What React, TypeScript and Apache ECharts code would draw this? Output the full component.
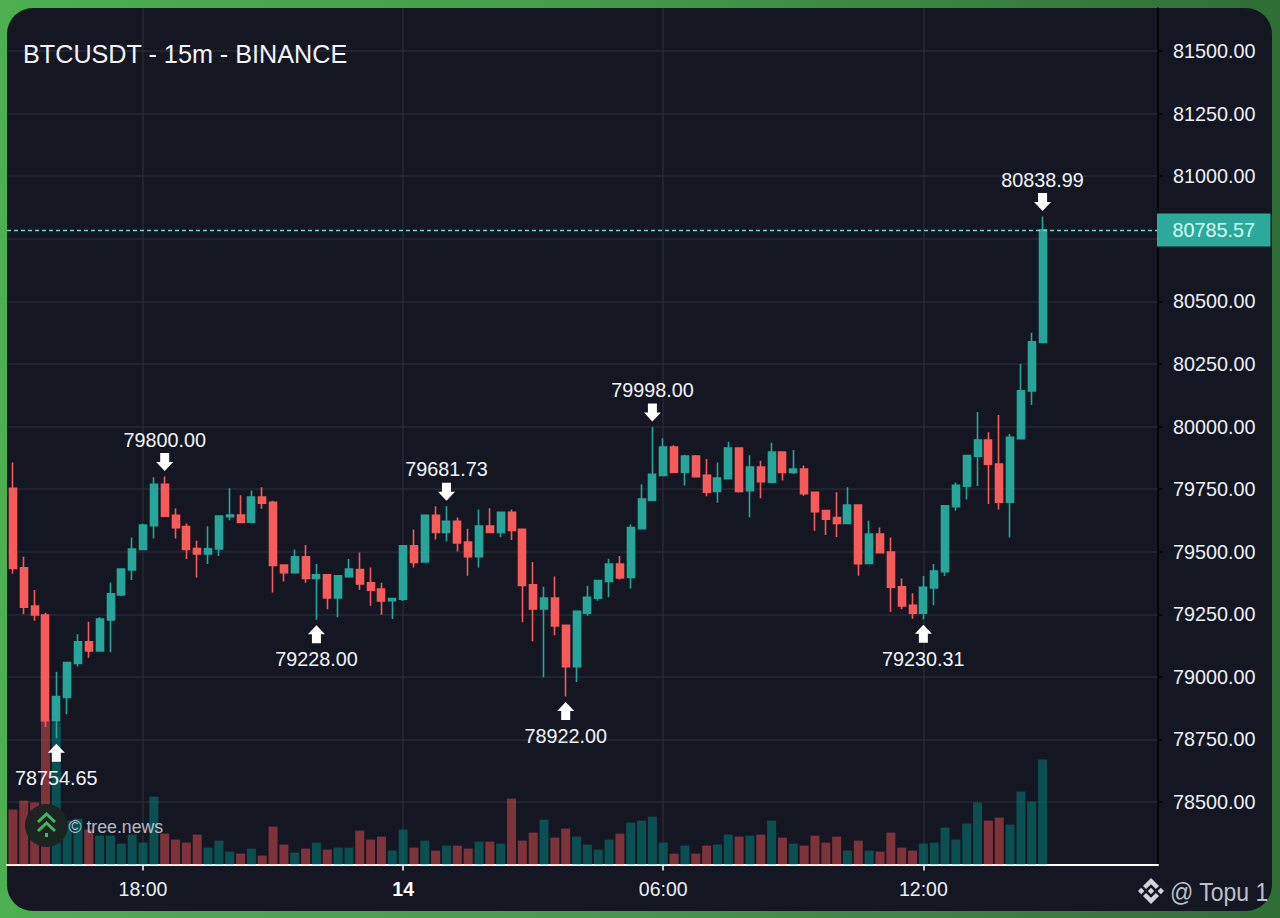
import React, { useEffect, useRef } from "react";
import * as echarts from "echarts";

const title = "BTCUSDT - 15m - BINANCE";
const FONT = '"Liberation Sans", Arial, sans-serif';
const UP = "#26A69A";
const DOWN = "#F85A5A";
const UP_VOL = "rgba(0,136,128,0.5)";
const DOWN_VOL = "rgba(232,78,82,0.5)";
const GRID = "#262a36";

const opens = [79753,79436,79283,79247,78825,78918,79054,79140,79104,79227,79327,79427,79509,79604,79769,79645,79600,79513,79491,79511,79640,79646,79618,79718,79697,79447,79416,79480,79393,79408,79315,79400,79429,79376,79351,79304,79310,79524,79459,79645,79577,79621,79539,79480,79602,79577,79657,79589,79368,79271,79315,79206,79041,79254,79314,79381,79451,79397,79592,79706,79805,79918,79818,79882,79805,79741,79792,79914,79744,79838,79778,79898,79817,79830,79737,79664,79636,79613,79686,79453,79571,79499,79360,79286,79254,79355,79420,79680,79762,79882,79946,79850,79698,79951,80142,80336];
const closes = [79433,79278,79247,78825,78921,79057,79140,79104,79231,79332,79431,79511,79606,79769,79642,79596,79509,79491,79512,79642,79646,79617,79718,79694,79445,79416,79480,79393,79408,79315,79404,79431,79371,79346,79303,79313,79524,79457,79645,79577,79621,79535,79480,79602,79577,79657,79585,79365,79271,79315,79203,79041,79262,79318,79385,79451,79395,79596,79710,79809,79918,79818,79882,79800,79738,79794,79914,79741,79838,79780,79898,79817,79830,79732,79660,79630,79613,79686,79452,79571,79496,79358,79283,79254,79358,79423,79683,79765,79884,79946,79850,79698,79957,80143,80339,80785.57];
const lows = [79413,79250,79224,78800,78754.65,78851,79041,79076,79104,79098,79323,79387,79509,79553,79642,79553,79471,79397,79451,79483,79626,79617,79618,79672,79337,79381,79416,79376,79228,79270,79238,79400,79347,79284,79248,79231,79303,79437,79459,79549,79541,79501,79404,79437,79577,79559,79547,79218,79142,78998,79166,78922,78979,79244,79304,79318,79389,79353,79592,79706,79805,79818,79764,79800,79722,79696,79792,79736,79638,79714,79773,79784,79810,79724,79584,79567,79559,79613,79404,79453,79496,79260,79270,79232,79230.31,79286,79403,79664,79709,79762,79691,79669,79557,79951,80086,80336];
const highs = [79856,79480,79347,79256,79020,79057,79170,79220,79238,79377,79433,79557,79612,79797,79800,79673,79613,79544,79602,79645,79753,79726,79744,79757,79704,79447,79509,79527,79451,79408,79404,79471,79497,79437,79376,79313,79524,79589,79645,79682,79681.73,79637,79592,79669,79674,79657,79669,79593,79459,79360,79401,79206,79262,79364,79385,79472,79483,79609,79769,79998,79953,79925,79887,79886,79870,79856,79939,79914,79885,79863,79935,79898,79906,79844,79737,79666,79737,79757,79686,79624,79597,79557,79393,79334,79403,79451,79683,79776,79884,80058,79977,80046,79970,80250,80375,80838.99];
const volumes = [55,64,62,145,142,44,46,35,29,29,21,30,22,68,31,25,22,30,17,24,13,11,16,9,38,20,12,16,22,15,17,17,34,25,28,14,35,17,24,14,19,19,16,23,23,21,66,24,32,45,27,36,28,20,15,25,31,42,44,48,22,11,19,11,19,20,30,28,29,30,44,27,21,19,29,22,28,14,24,14,13,32,17,14,21,22,37,25,41,62,44,47,40,73,63,105];

const xTickIndexes = [12, 36, 60, 84];
const xTickLabels = ["18:00", "14", "06:00", "12:00"];
const priceTicks = [78500,78750,79000,79250,79500,79750,80000,80250,80500,80750,81000,81250,81500];
const lastPrice = 80785.57;
const swingHighs: [number, number][] = [[14, 79800], [40, 79681.73], [59, 79998], [95, 80838.99]];
const swingLows: [number, number][] = [[4, 78754.65], [28, 79228], [51, 78922], [84, 79230.31]];

const binanceMark = "M0,-13L8,-5L4.9,-1.9L0,-6.8L-4.9,-1.9L-8,-5Z M0,13L8,5L4.9,1.9L0,6.8L-4.9,1.9L-8,5Z M0,-3.2L3.2,0L0,3.2L-3.2,0Z M-13,0L-9.8,-3.2L-6.6,0L-9.8,3.2Z M13,0L9.8,-3.2L6.6,0L9.8,3.2Z";
const DOWN_ARROW = "path://M4,0L13,0L13,9L17,9L8.5,18L0,9L4,9Z";
const UP_ARROW = "path://M8.5,0L17,9L13,9L13,18L4,18L4,9L0,9Z";

export default function App() {
  const ref = useRef<HTMLDivElement>(null);
  useEffect(() => {
    document.body.style.margin = "0";
    echarts.graphic.registerShape("binanceLogo", echarts.graphic.extendPath(binanceMark, {}) as any);
    const chart = echarts.init(ref.current!, undefined, { renderer: "svg" });
    const xMin = -0.55;
    const xMax = 105.65;
    const markLabel = {
      show: true,
      color: "#f2f4f8",
      fontSize: 19.8,
      fontFamily: FONT,
      formatter: (p: any) => p.value[1].toFixed(2),
    };
    chart.setOption({
      animation: false,
      backgroundColor: "transparent",
      title: {
        text: title,
        left: 18,
        top: 36,
        textStyle: { color: "#f2f4f8", fontSize: 25.2, fontWeight: "normal", fontFamily: FONT },
      },
      grid: [
        { left: 7, right: 122, top: 8, bottom: 53.4 },
        { left: 7, right: 122, height: 164, bottom: 53.4 },
      ],
      xAxis: [
        {
          type: "value",
          gridIndex: 0,
          min: xMin,
          max: xMax,
          position: "bottom",
          axisLine: { show: true, lineStyle: { color: "#ffffff", width: 2 }, onZero: false },
          axisTick: { show: true, length: 6, customValues: xTickIndexes, lineStyle: { color: "#ffffff", width: 1.5 } },
          splitLine: { show: true, lineStyle: { color: GRID, width: 1.5 } },
          axisLabel: {
            customValues: xTickIndexes,
            margin: 14,
            color: "#eef0f5",
            fontSize: 19.5,
            fontFamily: FONT,
            formatter: (v: number) => {
              const t = xTickLabels[xTickIndexes.indexOf(v)] ?? "";
              return t === "14" ? "{b|14}" : t;
            },
            rich: { b: { fontWeight: "bold", fontSize: 19.5, color: "#ffffff", fontFamily: FONT } },
          },
        },
        {
          type: "value",
          gridIndex: 1,
          min: xMin,
          max: xMax,
          axisLine: { show: false },
          axisTick: { show: false },
          axisLabel: { show: false },
          splitLine: { show: false },
        },
      ],
      yAxis: [
        {
          type: "value",
          gridIndex: 0,
          position: "right",
          min: 78250,
          max: 81672,
          axisLine: { show: true, onZero: false, lineStyle: { color: "#000000", width: 1.5 } },
          axisTick: { show: true, length: 4, customValues: priceTicks, lineStyle: { color: "#000000", width: 1.5 } },
          splitLine: { show: true, lineStyle: { color: GRID, width: 1.5 } },
          axisLabel: {
            customValues: priceTicks,
            margin: 15,
            color: "#eef0f5",
            fontSize: 19.8,
            fontFamily: FONT,
            formatter: (v: number) => v.toFixed(2),
          },
        },
        {
          type: "value",
          gridIndex: 1,
          min: 0,
          max: 164,
          axisLine: { show: false },
          axisTick: { show: false },
          axisLabel: { show: false },
          splitLine: { show: false },
        },
      ],
      series: [
        {
          type: "bar",
          xAxisIndex: 1,
          yAxisIndex: 1,
          barWidth: 9,
          z: 1,
          silent: true,
          data: volumes.map((v, i) => ({
            value: [i, v],
            itemStyle: { color: closes[i] >= opens[i] ? UP_VOL : DOWN_VOL },
          })),
        },
        {
          type: "candlestick",
          xAxisIndex: 0,
          yAxisIndex: 0,
          barWidth: 7.5,
          z: 3,
          itemStyle: {
            color: UP,
            color0: DOWN,
            borderColor: UP,
            borderColor0: DOWN,
            borderWidth: 1.6,
          },
          encode: { x: 0, y: [1, 2, 3, 4] },
          data: opens.map((o, i) => [i, o, closes[i], lows[i], highs[i]]),
          markLine: {
            silent: true,
            symbol: "none",
            z: 10,
            lineStyle: { color: "#6fd3c7", type: [4, 3], width: 1.3 },
            label: {
              show: true,
              position: "end",
              distance: -1,
              color: "#dcfff9",
              fontSize: 19.8,
              fontFamily: FONT,
              backgroundColor: "#2BAA9C",
              padding: [6.5, 15.5, 6.5, 15.5],
              formatter: () => lastPrice.toFixed(2),
            },
            data: [{ yAxis: lastPrice }],
          },
        },
        {
          type: "scatter",
          xAxisIndex: 0,
          yAxisIndex: 0,
          z: 5,
          symbol: DOWN_ARROW,
          symbolSize: [17, 18],
          symbolOffset: [0, -14.5],
          itemStyle: { color: "#ffffff", opacity: 1 },
          label: { ...markLabel, position: "top", distance: 3.5 },
          data: swingHighs,
        },
        {
          type: "scatter",
          xAxisIndex: 0,
          yAxisIndex: 0,
          z: 5,
          symbol: UP_ARROW,
          symbolSize: [17, 18],
          symbolOffset: [0, 14.5],
          itemStyle: { color: "#ffffff", opacity: 1 },
          label: { ...markLabel, position: "bottom", distance: 6 },
          data: swingLows,
        },
      ],
      graphic: [
        { type: "circle", z: 100, shape: { cx: 46.5, cy: 825.5, r: 21.5 }, style: { fill: "#1b2421" } },
        { type: "polyline", z: 101, shape: { points: [[38, 822], [46.5, 814], [55, 822]] }, style: { stroke: "#3fb860", lineWidth: 3, fill: "none" } },
        { type: "polyline", z: 101, shape: { points: [[38, 831], [46.5, 823], [55, 831]] }, style: { stroke: "#3fb860", lineWidth: 3, fill: "none" } },
        { type: "rect", z: 101, shape: { x: 45, y: 833, width: 3, height: 4 }, style: { fill: "#3fb860" } },
        {
          type: "text", z: 101, x: 68.5, y: 827,
          style: { text: "© tree.news", fill: "rgba(225,228,235,0.8)", fontSize: 17.7, fontFamily: FONT, textVerticalAlign: "middle" },
        },
        { type: "binanceLogo", z: 101, x: 1151, y: 891, style: { fill: "#d0d3da" } },
        {
          type: "text", z: 101, x: 1170, y: 892, scaleY: 1.15,
          style: { text: "@ Topu 1", fill: "rgba(220,224,232,0.85)", fontSize: 23, fontFamily: FONT, textVerticalAlign: "middle" },
        },
      ],
    });
    return () => chart.dispose();
  }, []);

  return (
    <div
      style={{
        position: "absolute",
        left: 0,
        top: 0,
        width: 1280,
        height: 918,
        overflow: "hidden",
        background: "linear-gradient(90deg, #4caf50 0%, #459c49 45%, #2f6e35 100%)",
      }}
    >
      <div
        style={{
          position: "absolute",
          left: 7,
          top: 8,
          width: 1265,
          height: 903,
          borderRadius: 26,
          background: "#141722",
        }}
      />
      <div ref={ref} style={{ position: "absolute", left: 0, top: 0, width: 1280, height: 918 }} />
    </div>
  );
}
